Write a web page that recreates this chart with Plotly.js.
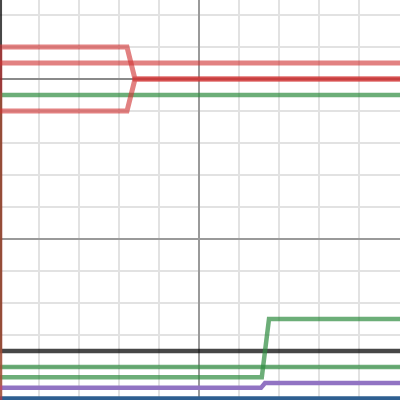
<!DOCTYPE html>
<html>
<head>
<meta charset="utf-8">
<script src="https://cdn.plot.ly/plotly-3.0.1.min.js"></script>
<style>
  html, body { margin: 0; padding: 0; background: #fff; }
  #chart { width: 400px; height: 400px; }
</style>
</head>
<body>
<div id="chart"></div>
<script>
// Series data (zoomed-in view)
const xRedStep = [-4.98, -4.98, -1.8, -1.6, 5.1];
const yRedHigh = [-6, 6, 6, 5, 5];
const xRedLow = [-5, -1.8, -1.6, 5.1];
const yRedLow = [4, 4, 5, 5];

const xFlat = [-4.98, -4.98, 5.1];
const yGreenHigh = [-6, 4.5, 4.5];
const yBlack = [8, -3.5, -3.5];

const xGray = [-5, 5.1];
const yRedMid = [5.5, 5.5];
const yGray = [5, 5];
const yGreenFlat = [-4, -4];
const yBlue = [-4.98, -4.98];

const xGreenStep = [-5, 1.57, 1.75, 5.1];
const yGreenStep = [-4.32, -4.32, -2.5, -2.5];

const xPurple = [-5, 1.55, 1.65, 5.1];
const yPurple = [-4.65, -4.65, -4.5, -4.5];

const RED = "rgba(208,52,52,0.62)";
const GREEN = "rgba(46,139,62,0.7)";

function line(x, y, color, width) {
  return {
    type: "scatter", mode: "lines", x: x, y: y,
    line: { color: color, width: width },
    hoverinfo: "skip"
  };
}

const traces = [
  line(xGray, yGray, "#8a8a8a", 2),
  line(xFlat, yBlack, "rgba(0,0,0,0.72)", 4.5),
  line(xFlat, yGreenHigh, GREEN, 4.5),
  line(xGray, yGreenFlat, GREEN, 4.5),
  line(xGreenStep, yGreenStep, GREEN, 4.5),
  line(xPurple, yPurple, "rgb(145,115,195)", 4.5),
  line(xGray, yBlue, "#2e5f91", 4.5),
  line(xGray, yRedMid, RED, 5),
  line(xRedStep, yRedHigh, RED, 5),
  line(xRedLow, yRedLow, RED, 5)
];

const layout = {
  width: 400,
  height: 400,
  margin: { l: 0, r: 0, t: 0, b: 0 },
  showlegend: false,
  paper_bgcolor: "#ffffff",
  plot_bgcolor: "#ffffff",
  xaxis: {
    range: [-4.975, 5.025],
    dtick: 1,
    showticklabels: false,
    ticks: "",
    showline: false,
    gridcolor: "#e2e2e2",
    gridwidth: 1.3,
    zeroline: true,
    zerolinecolor: "#9a9a9a",
    zerolinewidth: 1.5
  },
  yaxis: {
    range: [-5.03, 7.47],
    dtick: 1,
    showticklabels: false,
    ticks: "",
    showline: false,
    gridcolor: "#e2e2e2",
    gridwidth: 1.3,
    zeroline: true,
    zerolinecolor: "#9a9a9a",
    zerolinewidth: 1.5
  }
};

Plotly.newPlot("chart", traces, layout, { staticPlot: true });
</script>
</body>
</html>
